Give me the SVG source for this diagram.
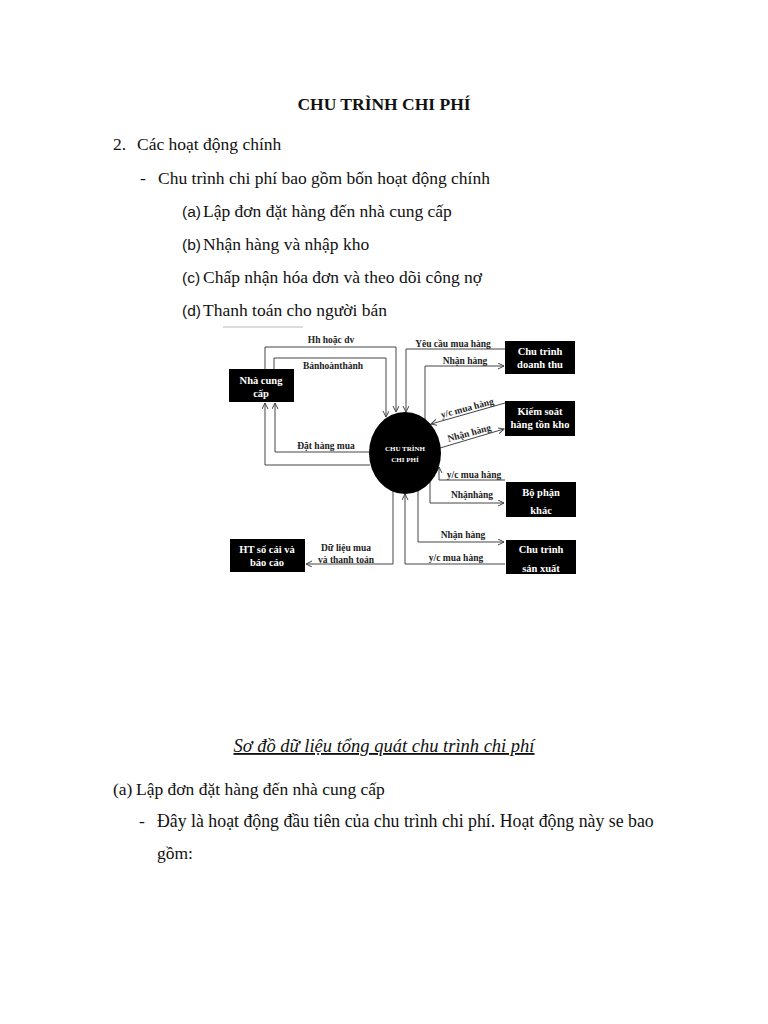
<svg xmlns="http://www.w3.org/2000/svg" width="768" height="1024" viewBox="0 0 768 1024">
<style>
.t{font-family:"Liberation Serif","Times New Roman",serif;font-size:17.5px;fill:#111}
.s{font-family:"Liberation Sans",Arial,sans-serif;font-size:15.5px;fill:#111}
.lb{font-family:"Liberation Serif","Times New Roman",serif;font-size:9.5px;font-weight:bold;fill:#222;text-anchor:middle}
.bx{fill:#000}
.bt{font-family:"Liberation Serif","Times New Roman",serif;font-size:10.5px;font-weight:bold;fill:#fff;text-anchor:middle}
.ct{font-family:"Liberation Serif","Times New Roman",serif;font-size:7px;font-weight:bold;fill:#fff;text-anchor:middle}
.c{fill:none;stroke:#444;stroke-width:1}
</style>
<defs>
<marker id="a" markerWidth="8" markerHeight="8" refX="6" refY="3" orient="auto" markerUnits="userSpaceOnUse">
<path d="M0,0 L6,3 L0,6" fill="none" stroke="#444" stroke-width="1"/>
</marker>
</defs>
<rect width="768" height="1024" fill="#fff"/>

<g id="page-text">
<text class="t" x="384" y="110" text-anchor="middle" font-weight="bold">CHU TRÌNH CHI PHÍ</text>
<text class="t" x="113" y="150">2.</text>
<text class="t" x="137" y="150">Các hoạt động chính</text>
<text class="t" x="140" y="184">-</text>
<text class="t" x="158" y="184">Chu trình chi phí bao gồm bốn hoạt động chính</text>
<text class="s" x="182" y="217">(a)</text><text class="t" x="203" y="217">Lập đơn đặt hàng đến nhà cung cấp</text>
<text class="s" x="182" y="250">(b)</text><text class="t" x="203" y="250">Nhận hàng và nhập kho</text>
<text class="s" x="182" y="283">(c)</text><text class="t" x="203" y="283">Chấp nhận hóa đơn và theo dõi công nợ</text>
<text class="s" x="182" y="316">(d)</text><text class="t" x="203" y="316">Thanh toán cho người bán</text>
<text class="t" x="384" y="752" text-anchor="middle" font-style="italic" text-decoration="underline" style="font-size:18.5px">Sơ đồ dữ liệu tổng quát chu trình chi phí</text>
<text class="t" x="113" y="795">(a)</text><text class="t" x="136" y="795">Lập đơn đặt hàng đến nhà cung cấp</text>
<text class="t" x="139" y="827">-</text>
<text class="t" x="157" y="827" style="font-size:17.8px">Đây là hoạt động đầu tiên của chu trình chi phí. Hoạt động này se bao</text>
<text class="t" x="157" y="859">gồm:</text>
</g>

<line x1="223" y1="327" x2="303" y2="327" stroke="#d0d0d0" stroke-width="1.5"/>

<g id="connectors">
<path class="c" d="M265,369 V347 H396 V412" marker-end="url(#a)"/>
<path class="c" d="M274,369 V358 H386 V417" marker-end="url(#a)"/>
<path class="c" d="M505,349 H406 V412" marker-end="url(#a)"/>
<path class="c" d="M425,419 V366 H504" marker-end="url(#a)"/>
<path class="c" d="M505,403 L431,424" marker-end="url(#a)"/>
<path class="c" d="M440,448 L504,429" marker-end="url(#a)"/>
<path class="c" d="M369,452 H275 V403" marker-end="url(#a)"/>
<path class="c" d="M370,465 H265 V403" marker-end="url(#a)"/>
<path class="c" d="M505,480 H439 V467" marker-end="url(#a)"/>
<path class="c" d="M430,482 V503 H504" marker-end="url(#a)"/>
<path class="c" d="M418,491 V542 H504" marker-end="url(#a)"/>
<path class="c" d="M505,564 H405 V494" marker-end="url(#a)"/>
<path class="c" d="M393,491 V564 H306" marker-end="url(#a)"/>
</g>

<g id="connector-labels">
<text class="lb" x="331" y="343">Hh hoặc dv</text>
<text class="lb" x="333" y="369">Bánhoànthành</text>
<text class="lb" x="453" y="347">Yêu cầu mua hàng</text>
<text class="lb" x="465" y="364">Nhận hàng</text>
<text class="lb" transform="translate(468,411) rotate(-15)">y/c mua hàng</text>
<text class="lb" transform="translate(470,436) rotate(-15)">Nhận hàng</text>
<text class="lb" x="326" y="449">Đặt hàng mua</text>
<text class="lb" x="474" y="478">y/c mua hàng</text>
<text class="lb" x="472" y="498">Nhậnhàng</text>
<text class="lb" x="463" y="538">Nhận hàng</text>
<text class="lb" x="456" y="561">y/c mua hàng</text>
<text class="lb" x="346" y="551">Dữ liệu mua</text>
<text class="lb" x="346" y="563">và thanh toán</text>
</g>

<g id="nha-cung-cap">
<rect class="bx" x="229" y="369" width="65" height="33"/>
<text class="bt" x="261" y="384">Nhà cung</text>
<text class="bt" x="261" y="397">cấp</text>
</g>
<g id="chu-trinh-chi-phi">
<ellipse cx="405" cy="453" rx="36" ry="41" fill="#000"/>
<text class="ct" x="405" y="451">CHU TRÌNH</text>
<text class="ct" x="405" y="462">CHI PHÍ</text>
</g>
<g id="chu-trinh-doanh-thu">
<rect class="bx" x="505" y="341" width="70" height="33"/>
<text class="bt" x="540" y="355">Chu trình</text>
<text class="bt" x="540" y="368">doanh thu</text>
</g>
<g id="kiem-soat">
<rect class="bx" x="505" y="401" width="70" height="35"/>
<text class="bt" x="540" y="415">Kiểm soát</text>
<text class="bt" x="540" y="428">hàng tồn kho</text>
</g>
<g id="bo-phan-khac">
<rect class="bx" x="506" y="482" width="70" height="35"/>
<text class="bt" x="541" y="496">Bộ phận</text>
<text class="bt" x="541" y="514">khác</text>
</g>
<g id="chu-trinh-san-xuat">
<rect class="bx" x="506" y="540" width="70" height="34"/>
<text class="bt" x="541" y="553">Chu trình</text>
<text class="bt" x="541" y="572">sản xuất</text>
</g>
<g id="ht-so-cai">
<rect class="bx" x="230" y="539" width="75" height="33"/>
<text class="bt" x="267" y="553">HT sổ cái và</text>
<text class="bt" x="267" y="566">báo cáo</text>
</g>
</svg>
